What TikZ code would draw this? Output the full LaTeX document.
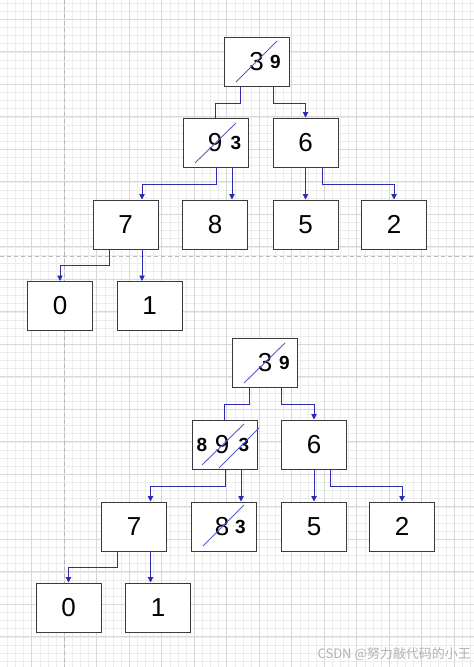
\documentclass[tikz,border=0pt]{standalone}
\usepackage{fontspec}
\setmainfont{Liberation Sans}
\newfontfamily\cjk{Noto Sans CJK SC}
\usetikzlibrary{arrows.meta}
\definecolor{conncol}{HTML}{2B2BB0}
\definecolor{strkcol}{HTML}{5A5AC8}
\definecolor{boxline}{HTML}{3A3A3A}
\definecolor{gridminor}{HTML}{ECECEC}
\definecolor{gridmajor}{HTML}{D8D8D8}
\begin{document}
\begin{tikzpicture}[x=1pt,y=-1pt,
  box/.style={draw=boxline, fill=white, line width=1pt, minimum width=65pt, minimum height=49pt, inner sep=0pt},
  big/.style={inner sep=0pt, font=\fontsize{26}{27}\selectfont},
  small/.style={inner sep=0pt, font=\fontsize{19}{20}\selectfont\bfseries},
  conn/.style={draw=conncol, line width=0.9pt},
  arr/.style={conn, -{Triangle[width=5.5pt,length=5.5pt]}},
  strike/.style={draw=strkcol, line width=0.9pt},
  minorline/.style={draw=gridminor, line width=0.5pt},
  majorline/.style={draw=gridmajor, line width=0.7pt},
  guide/.style={draw=gray!55, line width=0.9pt, dash pattern=on 4pt off 3pt}]
\useasboundingbox (0,0) rectangle (474,667);
\fill[white] (0,0) rectangle (474,667);
% grid
\foreach \k in {1,...,58} {\draw[minorline] (-0.8+8.125*\k,0) -- (-0.8+8.125*\k,667);}
\foreach \k in {0,...,81} {\draw[minorline] (0,3.05+8.125*\k) -- (474,3.05+8.125*\k);}
\foreach \k in {1,...,14} {\draw[majorline] (-0.8+32.5*\k,0) -- (-0.8+32.5*\k,667);}
\foreach \k in {0,...,19} {\draw[majorline] (0,19.3+32.5*\k) -- (474,19.3+32.5*\k);}
% guides
\draw[guide] (64,0) -- (64,667);
\draw[guide] (0,256) -- (474,256);

% ---------- top tree ----------
\node[box] (r1) at (256.5,61.5) {};
\node[box] (a1) at (215.5,142.5) {};
\node[box,big] (b1) at (305.5,142.5) {6};
\node[box,big] (c1) at (125.5,224.5) {7};
\node[box,big] (d1) at (215,224.5) {8};
\node[box,big] (e1) at (305.5,224.5) {5};
\node[box,big] (f1) at (394,224.5) {2};
\node[box,big] (g1) at (60,306) {0};
\node[box,big] (h1) at (149.5,306) {1};

\node[big] (r1t) at (256.5,62) {3};
\node[small] (r1s) at (275.5,62) {9};
\draw[strike] (236,82) -- (277,41);
\node[big] (a1t) at (215,143) {9};
\node[small] (a1s) at (236,143) {3};
\draw[strike] (195,163) -- (236,123);

% ---------- bottom tree ----------
\node[box] (r2) at (265,362.5) {};
\node[box] (a2) at (224.5,444.5) {};
\node[box,big] (b2) at (314,444.5) {6};
\node[box,big] (c2) at (134,526.5) {7};
\node[box] (d2) at (223.5,526.5) {};
\node[box,big] (e2) at (314,526.5) {5};
\node[box,big] (f2) at (402,526.5) {2};
\node[box,big] (g2) at (68.5,607.5) {0};
\node[box,big] (h2) at (158,607.5) {1};

\node[big] (r2t) at (265,363) {3};
\node[small] (r2s) at (284.5,363) {9};
\draw[strike] (244,383) -- (285,343);
\node[small] (a2p) at (202,445) {8};
\node[big] (a2t) at (222,445) {9};
\node[small] (a2s) at (244,445) {3};
\draw[strike] (202,465) -- (244,424);
\draw[strike] (219,468) -- (259,428);
\node[big] (d2t) at (222,526.5) {8};
\node[small] (d2s) at (240.5,526.5) {3};
\draw[strike] (203,546) -- (244,505);

% ---------- connectors ----------
\foreach \s in {1,2} {
  \draw[conn] ([xshift=-16pt]r\s.south) -- ++(0,16.5) -| (a\s.north);
  \draw[arr] ([xshift=16.5pt]r\s.south) -- ++(0,16.5) -| (b\s.north);
  \draw[arr] ([xshift=0.5pt]a\s.south) -- ++(0,16.5) -| ([xshift=16.5pt]c\s.north);
  \draw[arr] ([xshift=16.5pt]a\s.south) -- ([xshift=16.5pt]a\s.south |- d\s.north);
  \draw[arr] (b\s.south) -- (e\s.north);
  \draw[arr] ([xshift=16.5pt]b\s.south) -- ++(0,16.5) -| (f\s.north);
  \draw[arr] ([xshift=-16.5pt]c\s.south) -- ++(0,16) -| (g\s.north);
  \draw[arr] ([xshift=16.5pt]c\s.south) -- ([xshift=16.5pt]c\s.south |- h\s.north);
}

% watermark
\node[anchor=east, inner sep=0pt, text=gray!60, font=\cjk\fontsize{13}{13}\selectfont] (wm) at (471,654) {CSDN @努力敲代码的小王};
\end{tikzpicture}
\end{document}
